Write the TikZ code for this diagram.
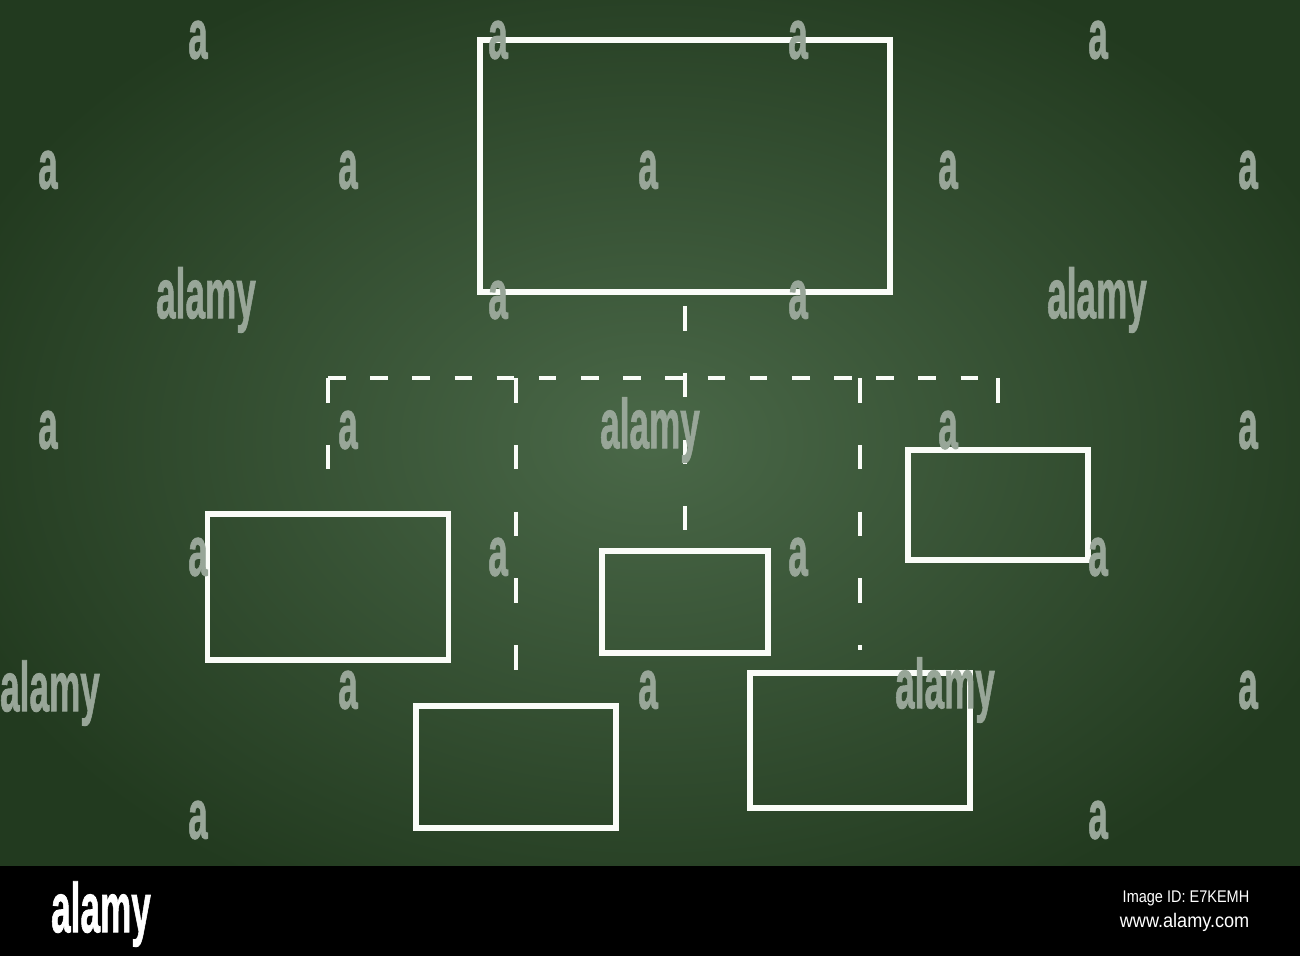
\documentclass[tikz,border=0pt]{standalone}
\usepackage{fontspec}
\setmainfont{Liberation Sans}
\newfontfamily\wmfont{Liberation Sans}[FakeBold=1.4]
\definecolor{boarddark}{RGB}{34,58,31}
\definecolor{boardlight}{RGB}{74,104,72}
\definecolor{chalkwhite}{RGB}{250,252,248}
\definecolor{wmgray}{RGB}{152,166,152}
\begin{document}
\begin{tikzpicture}[x=1cm,y=1cm,
  chalkbox/.style={draw=chalkwhite, line width=1.5pt, inner sep=0pt, outer sep=0pt, fill=none},
  hdash/.style={draw=chalkwhite, line width=1.1pt, dash pattern=on 5pt off 7pt},
  vdash/.style={draw=chalkwhite, line width=1.2pt, dash pattern=on 7pt off 12pt},
  wm/.style={text=wmgray, inner sep=0pt, font=\wmfont\fontsize{20}{20}\selectfont\bfseries},
  logo/.style={text=white, inner sep=0pt, font=\wmfont\fontsize{20}{20}\selectfont\bfseries},
  smalltxt/.style={text=white, inner sep=0pt, anchor=east}]
\useasboundingbox (0,0) rectangle (13,-9.56);
% board
\fill[boarddark] (0,0) rectangle (13,-8.66);
\begin{scope}
  \clip (0,0) rectangle (13,-8.66);
  \shade[inner color=boardlight, outer color=boarddark] (6.5,-4.4) ellipse (7.4 and 5.2);
\end{scope}
\fill[black] (0,-8.66) rectangle (13,-9.56);

% boxes
\node[chalkbox, minimum width=4.10cm, minimum height=2.52cm] (top) at (6.85,-1.66) {};
\node[chalkbox, minimum width=2.41cm, minimum height=1.46cm] (left) at (3.28,-5.87) {};
\node[chalkbox, minimum width=1.66cm, minimum height=1.02cm] (mid) at (6.85,-6.02) {};
\node[chalkbox, minimum width=1.80cm, minimum height=1.10cm] (right) at (9.98,-5.05) {};
\node[chalkbox, minimum width=2.00cm, minimum height=1.22cm] (bl) at (5.16,-7.67) {};
\node[chalkbox, minimum width=2.20cm, minimum height=1.35cm] (br) at (8.60,-7.405) {};

% connectors
\coordinate (hl) at (3.28,-3.78);
\coordinate (hr) at (9.98,-3.78);
\draw[hdash] (hl) -- (hr);
\draw[vdash, shorten <=0.14cm, shorten >=0.21cm] (top.south) -- (mid.north);
\draw[vdash, shorten >=0.2cm] (hl) -- (left.north);
\draw[vdash, shorten >=0.2cm] (hr) -- (right.north);
\draw[vdash, shorten >=0.25cm] (bl.north |- hl) -- (bl.north);
\draw[vdash, shorten >=0.23cm] (br.north |- hl) -- (br.north);

% watermarks
\foreach \x/\y [count=\i] in {1.98/0.40, 4.98/0.40, 7.98/0.40, 10.98/0.40,
  0.48/1.70, 3.48/1.70, 6.48/1.70, 9.48/1.70, 12.48/1.70,
  4.98/3.00, 7.98/3.00,
  0.48/4.30, 3.48/4.30, 9.48/4.30, 12.48/4.30,
  1.98/5.57, 4.98/5.57, 7.98/5.57, 10.98/5.57,
  3.48/6.90, 6.48/6.90, 12.48/6.90,
  1.98/8.20, 10.98/8.20}
  \node[wm] (wa\i) at (\x,-\y) {\scalebox{0.5}[1]{a}};
\foreach \x/\y [count=\i] in {2.06/3.00, 10.97/3.00, 6.50/4.30, 0.50/6.93, 9.45/6.90}
  \node[wm] (wb\i) at (\x,-\y) {\scalebox{0.5}[1]{alamy}};

% bottom band
\node[logo] (logo) at (1.01,-9.14) {\scalebox{0.5}[1]{alamy}};
\node[smalltxt, font=\fontsize{4.8}{5}\selectfont] (imgid) at (12.50,-8.98) {\scalebox{0.86}[1]{Image ID: E7KEMH}};
\node[smalltxt, font=\fontsize{5.6}{6}\selectfont] (url) at (12.50,-9.22) {\scalebox{0.92}[1]{www.alamy.com}};
\end{tikzpicture}
\end{document}
